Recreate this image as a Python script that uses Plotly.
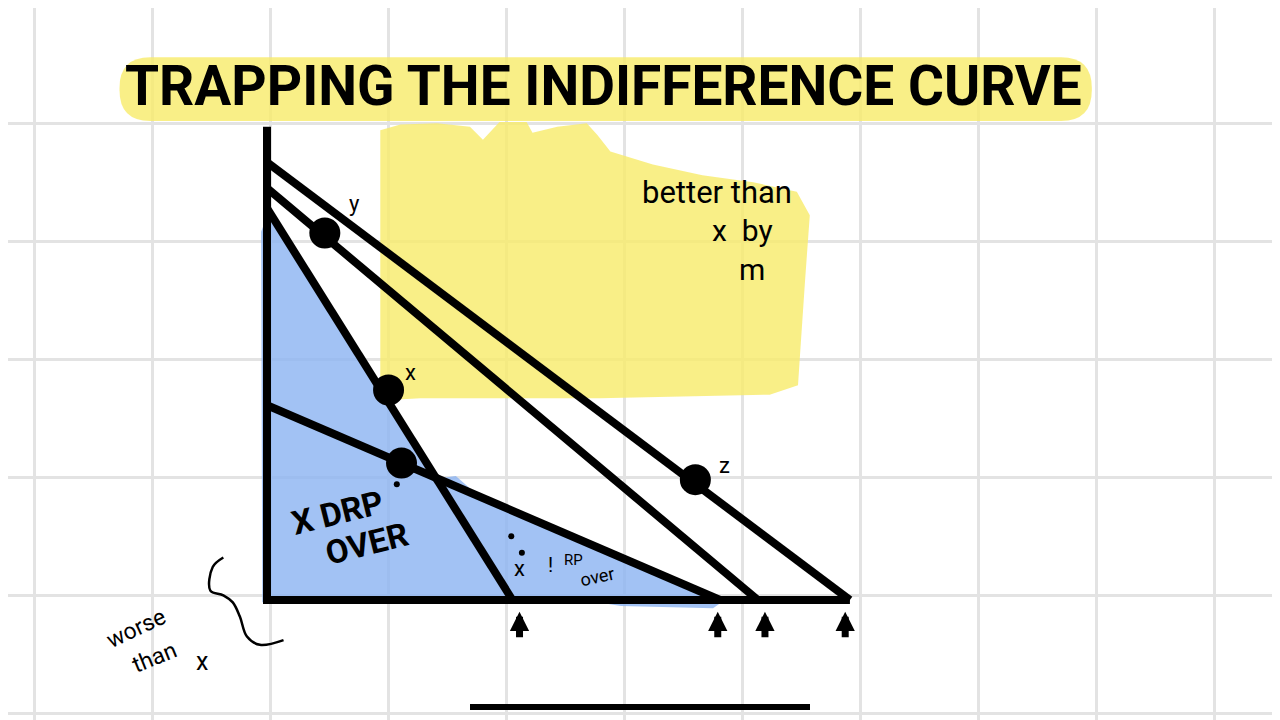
import plotly.graph_objects as go

# budget lines: where each one meets the two axes (grid units)
line_y0 = [3.71, 3.49, 3.32, 1.65]
line_x0 = [4.94, 4.16, 2.08, 3.84]

# bundles y, x, (unlabelled), z
dot_x = [0.49, 1.03, 1.14, 3.63]
dot_y = [3.11, 1.78, 1.16, 1.02]
dot_names = ["y", "x", "", "z"]
dot_label_x = [0.74, 1.22, 1.22, 3.88]
dot_label_y = [3.36, 1.93, 1.16, 1.14]

# yellow blob "better than x by m"
better_x = [0.96, 0.96, 1.13, 1.44, 1.72, 1.83, 1.97, 2.20, 2.25, 2.46, 2.71, 2.80, 2.91,
            3.27, 3.69, 4.12, 4.49, 4.60, 4.56, 4.52, 4.50, 4.26, 2.82, 1.30, 0.96]
better_y = [1.69, 3.98, 4.03, 4.04, 4.01, 3.90, 4.05, 4.05, 3.96, 4.01, 4.04, 3.94, 3.80,
            3.69, 3.60, 3.54, 3.46, 3.26, 2.71, 2.12, 1.82, 1.74, 1.71, 1.71, 1.69]

# blue region "worse than x"
worse_x = [-0.04, -0.05, 0.02, 1.45, 1.60, 1.75, 3.88, 3.78, 3.00, 2.80, -0.04]
worse_y = [-0.02, 3.12, 3.30, 1.03, 1.05, 0.92, 0.00, -0.07, -0.05, -0.02, -0.02]

# curly brace next to "worse than x"
brace_x = [-0.37, -0.46, -0.48, -0.37, -0.29, -0.23, -0.17, -0.06, 0.14]
brace_y = [0.36, 0.28, 0.08, 0.04, -0.02, -0.14, -0.31, -0.38, -0.34]

# little arrows under the horizontal axis
arrow_x = [2.14, 3.82, 4.22, 4.90]

title = "TRAPPING THE INDIFFERENCE CURVE"
band_x = [-1.25, 6.99]
band_y = [4.06, 4.60]

YELLOW = "rgba(248,236,109,0.82)"
BLUE = "rgba(141,180,242,0.82)"
HAND = "Roboto"

# the page has an 8px body margin, so the figure starts at (8, 8)
OFF = 8
W, H = 1280 - OFF, 720 - OFF
PX = 118          # pixels per grid unit
ORIGIN = (267, 600)

fig = go.Figure()

# title highlight
r = 0.26
x0, x1 = band_x
y0, y1 = band_y
band_path = (f"M {x0 + r} {y0} L {x1 - r} {y0} Q {x1} {y0} {x1} {y0 + r} L {x1} {y1 - r} "
             f"Q {x1} {y1} {x1 - r} {y1} L {x0 + r} {y1} Q {x0} {y1} {x0} {y1 - r} "
             f"L {x0} {y0 + r} Q {x0} {y0} {x0 + r} {y0} Z")
fig.add_shape(type="path", path=band_path, fillcolor=YELLOW, line_width=0, layer="above")

fig.add_trace(go.Scatter(x=better_x, y=better_y, fill="toself", fillcolor=YELLOW,
                         mode="none", hoverinfo="skip"))
fig.add_trace(go.Scatter(x=worse_x, y=worse_y, fill="toself", fillcolor=BLUE,
                         mode="none", hoverinfo="skip"))

# axes
fig.add_trace(go.Scatter(x=[0, 0, max(line_x0)], y=[4.01, 0, 0], mode="lines",
                         line=dict(color="black", width=8), hoverinfo="skip"))

for a, b in zip(line_x0, line_y0):
    fig.add_trace(go.Scatter(x=[0, a], y=[b, 0], mode="lines",
                             line=dict(color="black", width=8), hoverinfo="skip"))

fig.add_trace(go.Scatter(x=dot_x, y=dot_y, mode="markers",
                         marker=dict(color="black", size=31), hoverinfo="skip"))

fig.add_trace(go.Scatter(x=brace_x, y=brace_y, mode="lines", line_shape="spline",
                         line=dict(color="black", width=2.5), hoverinfo="skip"))

# small dots near the hand-written notes
fig.add_trace(go.Scatter(x=[1.10, 2.07, 2.16], y=[0.98, 0.54, 0.40], mode="markers",
                         marker=dict(color="black", size=6), hoverinfo="skip"))

for name, lx, ly in zip(dot_names, dot_label_x, dot_label_y):
    if name:
        fig.add_annotation(x=lx, y=ly, text=name, showarrow=False,
                           font=dict(family=HAND, size=22, color="black"))

notes = [
    ("better than", 3.81, 3.45, 31, 0),
    ("x  by", 4.03, 3.13, 30, 0),
    ("m", 4.11, 2.80, 30, 0),
    ("<b>X DRP</b>", 0.60, 0.74, 33, -14),
    ("<b>OVER</b>", 0.85, 0.48, 33, -14),
    ("x", 2.14, 0.27, 22, 0),
    ("!", 2.40, 0.30, 20, 0),
    ("RP", 2.60, 0.34, 15, 0),
    ("over", 2.80, 0.20, 18, -12),
    ("worse", -1.11, -0.24, 23, -25),
    ("than", -0.95, -0.49, 23, -22),
    ("x", -0.55, -0.52, 25, 0),
]
for txt, nx, ny, sz, ang in notes:
    fig.add_annotation(x=nx, y=ny, text=txt, showarrow=False, textangle=ang,
                       font=dict(family=HAND, size=sz, color="black"))

for ax_ in arrow_x:
    fig.add_annotation(x=ax_, y=-0.10, ax=0, ay=27, text="", showarrow=True,
                       arrowhead=2, arrowsize=0.55, arrowwidth=7, arrowcolor="black")

fig.add_annotation(x=(band_x[0] + band_x[1]) / 2 - 0.02, y=4.36, text=f"<b>{title}</b>",
                   showarrow=False, font=dict(family=HAND, size=55, color="black"))

# progress bar at the bottom of the frame
bar_y = 1 - (707 - OFF) / H
fig.add_shape(type="line", xref="paper", yref="paper", x0=(470 - OFF) / W,
              x1=(810 - OFF) / W, y0=bar_y, y1=bar_y, line=dict(color="black", width=6))

fig.update_xaxes(range=[(OFF - ORIGIN[0]) / PX, (1280 - ORIGIN[0]) / PX], tick0=0.03, dtick=1,
                 showgrid=True, gridcolor="#e3e3e3", gridwidth=3, zeroline=False,
                 showticklabels=False, fixedrange=True)
fig.update_yaxes(range=[(ORIGIN[1] - 720) / PX, (ORIGIN[1] - OFF) / PX], tick0=0.04, dtick=1,
                 showgrid=True, gridcolor="#e3e3e3", gridwidth=3, zeroline=False,
                 showticklabels=False, fixedrange=True)
fig.update_layout(width=W, height=H, margin=dict(l=0, r=0, t=0, b=0),
                  paper_bgcolor="white", plot_bgcolor="white", showlegend=False)

fig.write_html("out.html")
